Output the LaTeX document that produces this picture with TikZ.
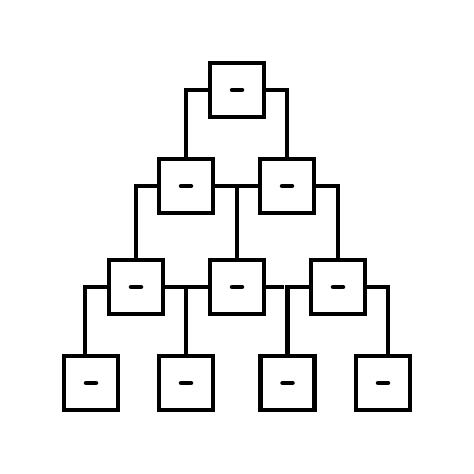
\documentclass[tikz,border=0pt]{standalone}
\usepackage{tikz}
\usetikzlibrary{positioning,calc}

\begin{document}
\begin{tikzpicture}[
    box/.style={rectangle, draw=black, line width=0.09cm, minimum size=1.08cm, inner sep=0pt},
    link/.style={draw=black, line width=0.09cm},
    minus/.style={draw=black, line width=0.09cm, line cap=round}
]
    % === canvas ===
    \useasboundingbox[fill=white] (0,0) rectangle (9.48,-9.48);

    % === LEVEL 1 ===
    \node[box] (top) at (4.74,-1.8) {};

    % === LEVEL 2 ===
    \node[box] (b21) at (3.72,-3.72) {};
    \node[box] (b22) at (5.74,-3.72) {};

    % === LEVEL 3 ===
    \node[box] (b31) at (2.72,-5.74) {};
    \node[box] (b32) at (4.74,-5.74) {};
    \node[box] (b33) at (6.76,-5.74) {};

    % === LEVEL 4 ===
    \node[box] (b41) at (1.82,-7.66) {};
    \node[box] (b42) at (3.72,-7.66) {};
    \node[box] (b43) at (5.75,-7.66) {};
    \node[box] (b44) at (7.66,-7.66) {};

    % dashes inside the boxes
    \foreach \b in {top,b21,b22,b31,b32,b33,b41,b42,b43,b44}
        \draw[minus] ([xshift=-0.1cm]\b.center) -- ([xshift=0.1cm]\b.center);

    % level 1 -> level 2
    \draw[link] (top.west) -| (b21.north);
    \draw[link] (top.east) -| (b22.north);

    % level 2 -> level 3
    \draw[link] (b21.west) -| (b31.north);
    \draw[link] (b21.east) -- (b22.west);
    \draw[link] (b32.north) -- (b32.north |- b21.east);
    \draw[link] (b22.east) -| (b33.north);

    % level 3 -> level 4
    \draw[link] (b31.west) -| ([xshift=-0.12cm]b41.north);
    \draw[link] (b31.east) -- (b32.west);
    \draw[link] (b42.north) -- (b42.north |- b31.east);
    \draw[link] (b32.east) -- ++(0.36,0);
    \draw[link] (b33.west) -| (b43.north);
    \draw[link] (b33.east) -| ([xshift=0.1cm]b44.north);
\end{tikzpicture}
\end{document}
